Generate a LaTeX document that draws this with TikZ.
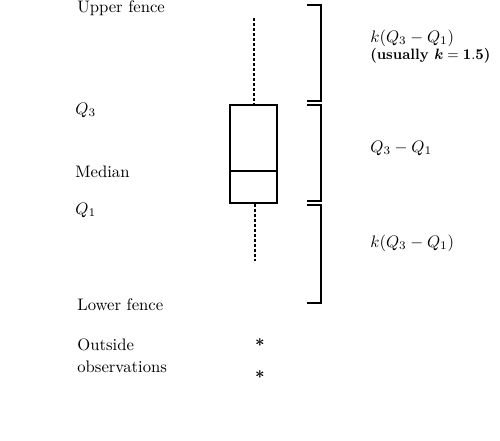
\documentclass[tikz,border=0pt]{standalone}
\usepackage{amsmath,bm}
\begin{document}
\begin{tikzpicture}[x=0.6pt,y=-0.6pt,
  lbl/.style={anchor=west,inner sep=0pt},
  brk/.style={line width=0.85pt},
  whisk/.style={line width=0.65pt,dash pattern=on 2pt off 1pt},
  boxln/.style={line width=0.8pt}]
\useasboundingbox (0,0) rectangle (500,440);
% left labels
\node[lbl] (uf) at (77,8) {Upper fence};
\node[lbl] (q3) at (75,110) {$Q_3$};
\node[lbl] (med) at (75,172) {Median};
\node[lbl] (q1) at (75,210) {$Q_1$};
\node[lbl] (lf) at (77,305) {Lower fence};
\node[lbl] (out1) at (77,345) {Outside};
\node[lbl] (out2) at (77,367) {observations};
% box
\node[draw,boxln,minimum width=28.2pt,minimum height=58.8pt,inner sep=0pt] (box) at (253.5,154) {};
\coordinate (mL) at (230,171);
\coordinate (mR) at (277,171);
\draw[boxln] (mL) -- (mR);
\coordinate (wt) at (254,18);
\coordinate (wb) at (255,261);
\draw[whisk] (wt) -- (box.north -| wt);
\draw[whisk] (box.south -| wb) -- (wb);
% outside observations
\node[inner sep=0pt] (s1) at (260,343) {$\bm{\ast}$};
\node[inner sep=0pt] (s2) at (260,375) {$\bm{\ast}$};
% brackets
\coordinate (b1a) at (307,5);
\coordinate (b1b) at (321,5);
\coordinate (b1c) at (321,101);
\coordinate (b1d) at (307,101);
\draw[brk] (b1a) -- (b1b) -- (b1c) -- (b1d);
\coordinate (b2a) at (307,105);
\coordinate (b2b) at (321,105);
\coordinate (b2c) at (321,201);
\coordinate (b2d) at (307,201);
\draw[brk] (b2a) -- (b2b) -- (b2c) -- (b2d);
\coordinate (b3a) at (307,205);
\coordinate (b3b) at (321,205);
\coordinate (b3c) at (321,303);
\coordinate (b3d) at (307,303);
\draw[brk] (b3a) -- (b3b) -- (b3c) -- (b3d);
% right labels
\node[lbl] (r1) at (370,38) {$k(Q_3-Q_1)$};
\node[lbl,font=\small\bfseries,xscale=0.95] (r1b) at (370,56) {(usually $\bm{k}=\mathbf{1.5}$)};
\node[lbl] (r2) at (370,148) {$Q_3-Q_1$};
\node[lbl] (r3) at (370,243) {$k(Q_3-Q_1)$};
\end{tikzpicture}
\end{document}
